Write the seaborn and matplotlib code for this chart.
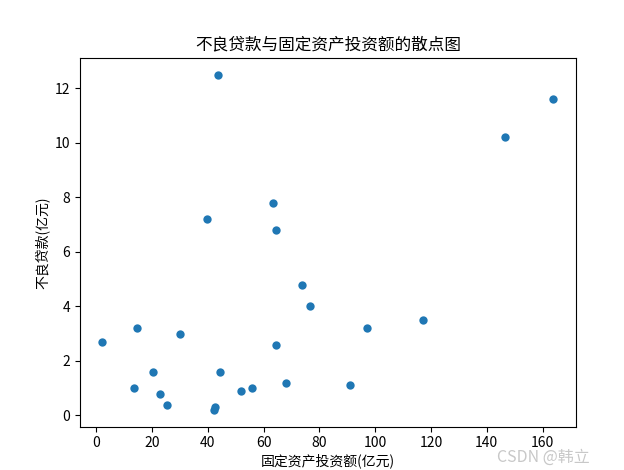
import matplotlib
matplotlib.use("Agg")
import matplotlib.pyplot as plt
import seaborn as sns
import pandas as pd

plt.rcParams['font.family'] = ['Noto Sans CJK SC', 'DejaVu Sans']
plt.rcParams['axes.unicode_minus'] = False

investment = [51.9, 90.9, 73.7, 14.5, 63.2, 2.2, 20.2, 43.8, 55.9, 64.3, 42.7, 76.7, 22.8,
              117.1, 146.7, 29.9, 42.1, 25.3, 13.4, 64.3, 163.9, 44.5, 67.9, 39.7, 97.1]
bad_loans = [0.9, 1.1, 4.8, 3.2, 7.8, 2.7, 1.6, 12.5, 1.0, 2.6, 0.3, 4.0, 0.8,
             3.5, 10.2, 3.0, 0.2, 0.4, 1.0, 6.8, 11.6, 1.6, 1.2, 7.2, 3.2]

df = pd.DataFrame({'固定资产投资额(亿元)': investment, '不良贷款(亿元)': bad_loans})

fig, ax = plt.subplots(figsize=(6.24, 4.70), dpi=100)
fig.subplots_adjust(left=0.128, right=0.923, bottom=0.092, top=0.877)
sns.scatterplot(data=df, x='固定资产投资额(亿元)', y='不良贷款(亿元)', ax=ax,
                color='#1f77b4', s=36, linewidth=0)
ax.set_title('不良贷款与固定资产投资额的散点图')
ax.set_xlabel('固定资产投资额(亿元)', labelpad=2)
ax.set_ylabel('不良贷款(亿元)')
fig.text(0.945, 0.008, 'CSDN @韩立', ha='right', va='bottom', color='#c8c8c8', fontsize=11.5)
fig.savefig('out.png', dpi=100)
